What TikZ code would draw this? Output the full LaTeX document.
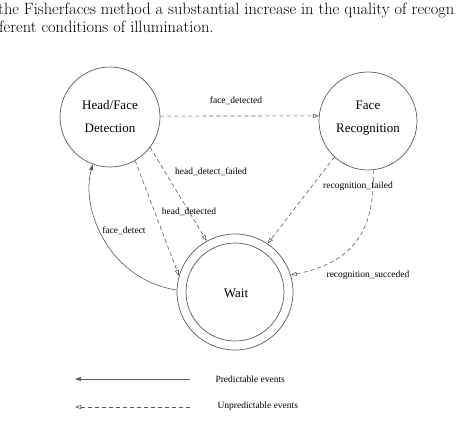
\documentclass[tikz,border=0pt]{standalone}
\usepackage{fontspec}
\newfontfamily\tms{Liberation Serif}
\usetikzlibrary{arrows.meta}
\definecolor{ln}{HTML}{5A5A5A}
\tikzset{
  statec/.style={circle, draw=ln, line width=0.7pt, inner sep=0pt},
  statetxt/.style={font=\tms\fontsize{13}{23}\selectfont, align=center, text=black},
  lbl/.style={font=\tms\fontsize{9.5}{11}\selectfont, text=black},
  pred/.style={draw=ln, line width=0.6pt, -{Triangle[length=6pt,width=4pt]}},
  unpred/.style={draw=ln, line width=0.6pt, dash pattern=on 4pt off 3pt, -{Triangle[open,length=6pt,width=4pt]}},
  captxt/.style={font=\fontsize{16.4}{19.7}\selectfont, text=black, inner sep=0pt, anchor=base west}
}
\begin{document}
\begin{tikzpicture}[x=1pt,y=-1pt]
\useasboundingbox (0,0) rectangle (474,424);
\clip (0,0) rectangle (474,424);
% caption text
\node[captxt] (cap1) at (-2,14) {the Fisherfaces method a substantial increase in the quality of recogn};
\node[captxt] (cap2) at (-1,32) {ferent conditions of illumination.};
% states
\node[statec, minimum size=100pt] (hf) at (110,117) {};
\node[statetxt] (hft) at (110,117) {Head/Face\\Detection};
\node[statec, minimum size=98pt] (fr) at (368,121) {};
\node[statetxt] (frt) at (368,118) {Face\\Recognition};
\node[statec, minimum size=116pt] (wait) at (235,292) {};
\node[statec, minimum size=98pt] (waitin) at (235,292) {};
\node[statetxt] (waitt) at (236,293) {Wait};
% transitions
\draw[unpred] (hf.1) -- (fr.174);
\draw[unpred] (hf.-37) -- (wait.119);
\draw[unpred] (hf.-60) -- (wait.164);
\draw[pred] (wait.178) .. controls (110,280) and (80,210) .. (hf.-110);
\draw[unpred] (fr.-133) -- (wait.56);
\draw[unpred] (fr.-84) .. controls (375,225) and (358,262) .. (wait.17);
% labels
\node[lbl] (l1) at (236,101) {face\_detected};
\node[lbl] (l2) at (211,172) {head\_detect\_failed};
\node[lbl] (l3) at (189,212) {head\_detected};
\node[lbl] (l4) at (124,231) {face\_detect};
\node[lbl] (l5) at (358,186) {recognition\_failed};
\node[lbl] (l6) at (368,275) {recognition\_succeded};
% legend
\coordinate (pa) at (75,379);
\coordinate (pb) at (190,379);
\coordinate (ua) at (75,407);
\coordinate (ub) at (190,407);
\draw[pred] (pb) -- (pa);
\draw[unpred] (ub) -- (ua);
\node[lbl, anchor=west] (lp) at (212,379) {Predictable events};
\node[lbl, anchor=west] (lu) at (214,406) {Unpredictable events};
\end{tikzpicture}
\end{document}
